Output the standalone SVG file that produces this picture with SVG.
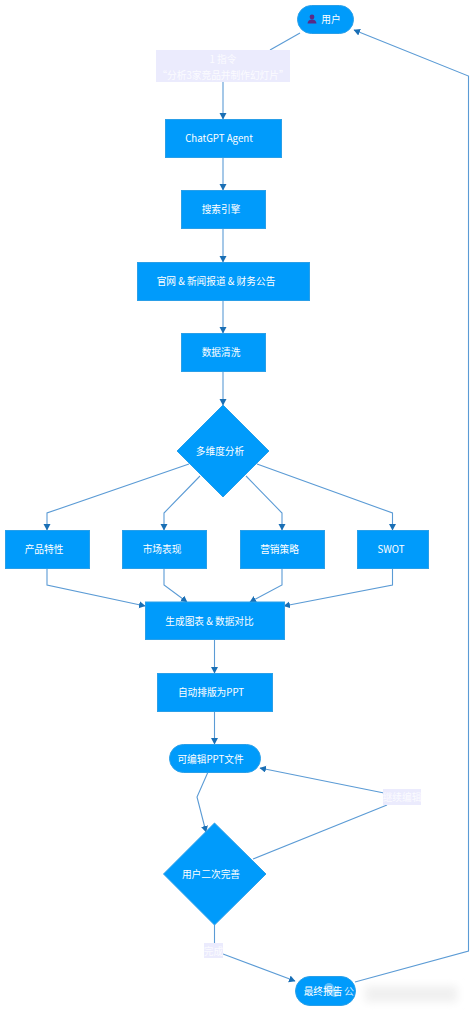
<svg xmlns="http://www.w3.org/2000/svg" width="474" height="1010" viewBox="0 0 474 1010">
<defs>
<marker id="a" markerUnits="userSpaceOnUse" markerWidth="10" markerHeight="10" refX="6" refY="3.5" orient="auto"><path d="M0 0L6.500 3.500L0 7Z" fill="#1a6fb5"/></marker>
<filter id="b" x="-20%" y="-50%" width="140%" height="200%"><feGaussianBlur stdDeviation="4"/></filter>
</defs>
<style>
.n{fill:#009bfb;stroke:#2a9fe8;stroke-width:1}
.l{fill:#ebebfd}
.t{fill:#fff;font-family:"Noto Sans CJK SC","Noto Sans",sans-serif;font-size:9.700px;text-anchor:middle;dominant-baseline:central}
.lt{fill:#fbfbff}
.c{fill:none;stroke:#5b9bd5;stroke-width:1.100;marker-end:url(#a)}
.p{fill:none;stroke:#5b9bd5;stroke-width:1.100}
</style>
<rect width="474" height="1010" fill="#fff"/>
<g id="connectors">
<path class="p" d="M300 33L270 50"/>
<path class="c" d="M223 82V119"/>
<path class="c" d="M223 157V190"/>
<path class="c" d="M223 229V262"/>
<path class="c" d="M223 300V333"/>
<path class="c" d="M223 372V405"/>
<path class="c" d="M189 464L47 513V530"/>
<path class="c" d="M200 476L164 513V530"/>
<path class="c" d="M246 476L282 513V530"/>
<path class="c" d="M257 464L392.500 513V530"/>
<path class="c" d="M47 568V585L145 606"/>
<path class="c" d="M164 568V585L187 602"/>
<path class="c" d="M282 568V585L250 602"/>
<path class="c" d="M392.500 568V585L284 606"/>
<path class="c" d="M214.500 640V673"/>
<path class="c" d="M214.500 711V744"/>
<path class="c" d="M208 772L197 797L206 832"/>
<path class="p" d="M253 859L387 805"/>
<path class="c" d="M384 793L260 768"/>
<path class="p" d="M214.500 925V943"/>
<path class="c" d="M223 954L295 981"/>
<path class="c" d="M355 982L468.500 951V76L354 30"/>
</g>
<g id="user"><rect class="n" x="297.500" y="5.500" width="56" height="28" rx="14"/><circle cx="312" cy="17" r="2.400" fill="#5b2a86"/><path d="M307.500 23.500Q308 19.500 312 19.500Q316 19.500 316.500 23.500Z" fill="#5b2a86"/><text class="t" x="331" y="19">用户</text></g>
<g id="instruction"><rect class="l" x="156" y="50" width="134" height="32"/><text class="t lt" x="223" y="58.500">1 指令</text><text class="t lt" x="223" y="75">“分析3家竞品并制作幻灯片”</text></g>
<g id="agent"><rect class="n" x="165.500" y="119.500" width="116" height="38"/><text class="t" x="219" y="138">ChatGPT Agent</text></g>
<g id="search"><rect class="n" x="181.500" y="190.500" width="84" height="38"/><text class="t" x="221" y="209">搜索引擎</text></g>
<g id="sources"><rect class="n" x="137.500" y="262.500" width="172" height="38"/><text class="t" x="216" y="281">官网 &amp; 新闻报道 &amp; 财务公告</text></g>
<g id="clean"><rect class="n" x="181.500" y="333.500" width="84" height="38"/><text class="t" x="221" y="352">数据清洗</text></g>
<g id="analysis"><path class="n" d="M223 405L269 451L223 497L177 451Z"/><text class="t" x="220" y="451">多维度分析</text></g>
<g id="product"><rect class="n" x="5.500" y="530.500" width="84" height="38"/><text class="t" x="44" y="549">产品特性</text></g>
<g id="market"><rect class="n" x="122.500" y="530.500" width="84" height="38"/><text class="t" x="162" y="549">市场表现</text></g>
<g id="marketing"><rect class="n" x="240.500" y="530.500" width="84" height="38"/><text class="t" x="279.500" y="549">营销策略</text></g>
<g id="swot"><rect class="n" x="357.500" y="530.500" width="71" height="38"/><text class="t" x="391" y="549">SWOT</text></g>
<g id="charts"><rect class="n" x="145.500" y="602" width="139" height="37.500"/><text class="t" x="209.500" y="620.500">生成图表 &amp; 数据对比</text></g>
<g id="layout"><rect class="n" x="157.500" y="673.500" width="115" height="38"/><text class="t" x="211" y="692">自动排版为PPT</text></g>
<g id="pptfile"><rect class="n" x="169.500" y="744.500" width="91" height="28" rx="14"/><text class="t" x="210.500" y="758.500">可编辑PPT文件</text></g>
<g id="refine"><path class="n" d="M214.500 823L266 874L214.500 925L163.500 874Z"/><text class="t" x="211" y="874">用户二次完善</text></g>
<g id="continue"><rect class="l" x="383" y="789" width="38" height="16"/><text class="t lt" x="402" y="797">继续编辑</text></g>
<g id="done"><rect class="l" x="204" y="943" width="19" height="15"/><text class="t lt" x="213.500" y="950.500">完成</text></g>
<g id="final"><rect class="n" x="295.500" y="976.500" width="60" height="29" rx="14.500"/><text class="t" x="323" y="991">最终报告</text></g>
<rect x="365" y="986" width="92" height="16" fill="#f0f0f0" filter="url(#b)"/>
<circle cx="329" cy="988" r="5" fill="#fff" opacity=".35"/><circle cx="335" cy="993" r="4" fill="#fff" opacity=".35"/>
<text x="349" y="990" fill="#cfe8fb" style="font-family:'Noto Sans CJK SC',sans-serif;font-size:10px;text-anchor:middle;dominant-baseline:central">公</text>
</svg>
